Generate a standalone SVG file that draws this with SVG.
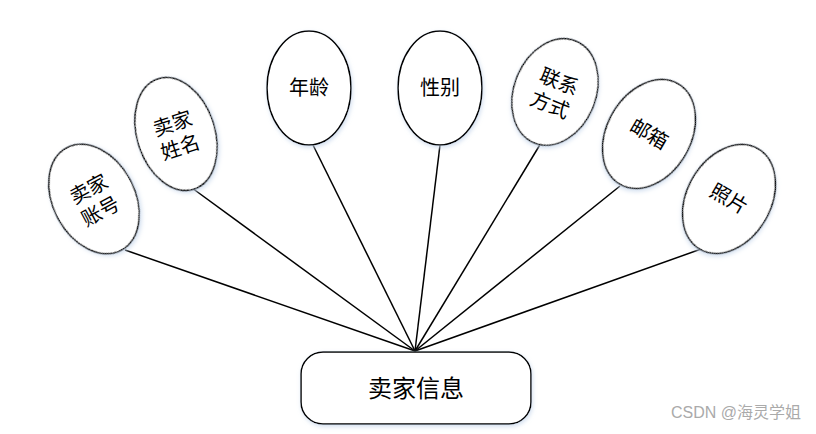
<svg xmlns="http://www.w3.org/2000/svg" width="816" height="434" viewBox="0 0 816 434">
<defs>
<filter id="sh" x="-20%" y="-20%" width="140%" height="140%">
<feDropShadow dx="1" dy="2" stdDeviation="2" flood-color="#c8d8ec" flood-opacity="0.8"/>
</filter>
<style>
.n{fill:#fff;stroke:#000;stroke-width:1.5;filter:url(#sh)}
.t{font-family:"Noto Sans CJK SC","Liberation Sans",sans-serif;font-size:20px;fill:#000;text-anchor:middle}
.c line{stroke:#000;stroke-width:1.5}
</style>
</defs>
<rect width="816" height="434" fill="#fff"/>
<g class="c" id="connectors">
<line x1="125" y1="250" x2="415" y2="351"/>
<line x1="192" y1="188" x2="415" y2="351"/>
<line x1="313" y1="145" x2="415" y2="351"/>
<line x1="440" y1="145" x2="415" y2="351"/>
<line x1="541" y1="143" x2="415" y2="351"/>
<line x1="620" y1="186" x2="415" y2="351"/>
<line x1="704" y1="248" x2="415" y2="351"/>
</g>
<g id="n1" transform="translate(94,199) rotate(-28)">
<ellipse class="n" cx="0" cy="0" rx="41" ry="58"/>
<text class="t" x="0" y="-4">卖家</text>
<text class="t" x="0" y="21">账号</text>
</g>
<g id="n2" transform="translate(176,134) rotate(-18)">
<ellipse class="n" cx="0" cy="0" rx="39" ry="58"/>
<text class="t" x="0" y="-4">卖家</text>
<text class="t" x="0" y="21">姓名</text>
</g>
<g id="n3" transform="translate(309,88)">
<ellipse class="n" cx="0" cy="0" rx="42" ry="57"/>
<text class="t" x="0" y="7">年龄</text>
</g>
<g id="n4" transform="translate(440,88)">
<ellipse class="n" cx="0" cy="0" rx="42" ry="57"/>
<text class="t" x="0" y="7">性别</text>
</g>
<g id="n5" transform="translate(555,92) rotate(22)">
<ellipse class="n" cx="0" cy="0" rx="41" ry="55"/>
<text class="t" x="0" y="-4">联系</text>
<text class="t" x="0" y="21">方式</text>
</g>
<g id="n6" transform="translate(649,134) rotate(30)">
<ellipse class="n" cx="0" cy="0" rx="42" ry="58"/>
<text class="t" x="0" y="7">邮箱</text>
</g>
<g id="n7" transform="translate(729,199) rotate(30)">
<ellipse class="n" cx="0" cy="0" rx="42" ry="58"/>
<text class="t" x="0" y="7">照片</text>
</g>
<g id="main">
<rect class="n" x="301" y="352" width="230" height="72" rx="22" ry="22"/>
<text class="t" x="416" y="397" style="font-size:24px">卖家信息</text>
</g>
<text x="801" y="418" style="font-family:'Liberation Sans','Noto Sans CJK SC',sans-serif;font-size:16px;fill:#aaa;text-anchor:end">CSDN @海灵学姐</text>
</svg>
